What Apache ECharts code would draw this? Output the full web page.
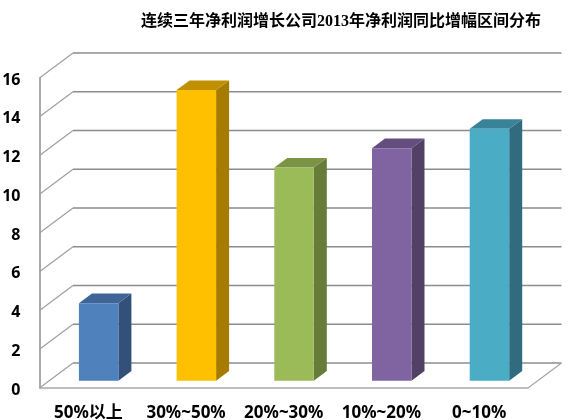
<!DOCTYPE html>
<html><head><meta charset="utf-8">
<style>html,body{margin:0;padding:0;background:#fff}#c{width:588px;height:420px}</style>
<script src="https://cdn.jsdelivr.net/npm/echarts@6/dist/echarts.min.js"></script>
</head><body><div id="c"></div>
<script>
const titleText = '连续三年净利润增长公司2013年净利润同比增幅区间分布';
const categories = ['50%以上', '30%~50%', '20%~30%', '10%~20%', '0~10%'];
const values = [4, 15, 11, 12, 13];
const yTicks = [0, 2, 4, 6, 8, 10, 12, 14, 16];
const frontColors = ['#4F81BD', '#FFC000', '#9BBB59', '#8064A2', '#4BACC6'];
const sideColors = ['#33507A', '#A67C00', '#687C3A', '#524065', '#316B80'];
const topColors = ['#3F6596', '#C09000', '#7A9344', '#644E80', '#3A8298'];

const WALL_DX = 33.5, WALL_DY = 25;
const BAR_DX = 10.3, BAR_DY = 7.3, BAR_W = 39.5, DEPTH_X = 13, DEPTH_Y = 9.7;
const GRID_COLOR = '#8c8c8c';
const FONT = '"Noto Sans","Noto Sans CJK SC",sans-serif';

const chart = echarts.init(document.getElementById('c'));
chart.setOption({
  animation: false,
  backgroundColor: '#fff',
  title: {
    text: titleText, left: 136, top: 9,
    textStyle: { fontFamily: '"Liberation Serif","Noto Sans CJK SC",serif', fontSize: 16, fontWeight: 'bold', color: '#000' }
  },
  grid: { left: 39.5, top: 78, width: 488.5, height: 310, containLabel: false, outerBoundsMode: 'none' },
  xAxis: {
    type: 'category', data: categories,
    axisLine: { show: false }, axisTick: { show: false }, splitLine: { show: false },
    axisLabel: { interval: 0, margin: 17, color: '#000', fontFamily: FONT, fontSize: 17, fontWeight: 'bold' }
  },
  yAxis: {
    type: 'value', min: 0, max: 16, interval: 2,
    axisLine: { show: true, lineStyle: { color: '#8c8c8c', width: 1.5 } },
    axisTick: { show: false }, splitLine: { show: false },
    axisLabel: { margin: 19, verticalAlign: 'top', lineHeight: 4, color: '#000', fontFamily: FONT, fontSize: 16, fontWeight: 'bold' }
  },
  series: [
    {
      type: 'custom', z: 1, silent: true, clip: false,
      data: yTicks.map(v => [0, v]),
      encode: { x: 0, y: 1 },
      renderItem(params, api) {
        const cs = params.coordSys;
        const y = api.coord([0, api.value(1)])[1];
        const x0 = cs.x, x1 = cs.x + cs.width;
        const ls = { stroke: GRID_COLOR, lineWidth: 1.5, fill: null };
        const children = [
          { type: 'line', shape: { x1: x0, y1: y, x2: x0 + WALL_DX, y2: y - WALL_DY }, style: { stroke: '#a0a0a0', lineWidth: 1.2 } },
          { type: 'line', shape: { x1: x0 + WALL_DX, y1: y - WALL_DY, x2: x1 + WALL_DX, y2: y - WALL_DY }, style: ls }
        ];
        if (api.value(1) === 0) {
          children.push({ type: 'line', shape: { x1: x0, y1: y, x2: x1, y2: y }, style: { stroke: '#a6a6a6', lineWidth: 1.5 } });
          children.push({ type: 'line', shape: { x1: x1, y1: y, x2: x1 + WALL_DX, y2: y - WALL_DY }, style: { stroke: '#a6a6a6', lineWidth: 1.2 } });
        }
        return { type: 'group', children };
      }
    },
    {
      type: 'custom', z: 2, silent: true, clip: false,
      data: values.map((v, i) => [i, v]),
      encode: { x: 0, y: 1 },
      renderItem(params, api) {
        const i = api.value(0);
        const top = api.coord([i, api.value(1)]);
        const base = api.coord([i, 0]);
        const xl = top[0] + BAR_DX - BAR_W / 2, xr = xl + BAR_W;
        const yt = top[1] - BAR_DY, yb = base[1] - BAR_DY;
        return {
          type: 'group',
          children: [
            { type: 'polygon', shape: { points: [[xr, yt], [xr + DEPTH_X, yt - DEPTH_Y], [xr + DEPTH_X, yb - DEPTH_Y], [xr, yb]] }, style: { fill: sideColors[i] } },
            { type: 'polygon', shape: { points: [[xl, yt], [xl + DEPTH_X, yt - DEPTH_Y], [xr + DEPTH_X, yt - DEPTH_Y], [xr, yt]] }, style: { fill: topColors[i] } },
            { type: 'rect', shape: { x: xl, y: yt, width: BAR_W, height: yb - yt }, style: { fill: frontColors[i] } }
          ]
        };
      }
    }
  ]
});
</script></body></html>
